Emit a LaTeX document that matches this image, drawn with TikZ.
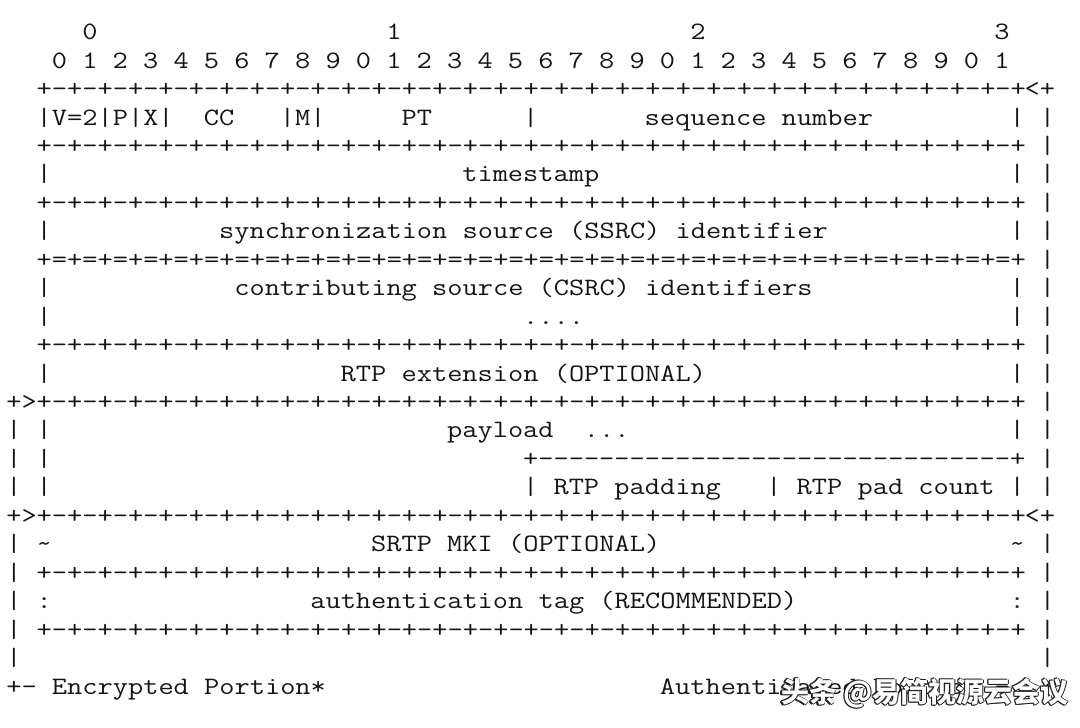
\documentclass[tikz,border=0pt]{standalone}
\usepackage{fontspec}
\usetikzlibrary{positioning}
\newfontfamily\cjk{Noto Sans CJK SC}
\definecolor{ink}{HTML}{141414}
\definecolor{shade}{HTML}{202020}

\newcommand\bitrule[1]{+\foreach\kk in {1,...,32}{#1+}}
\newcommand\dashrun[1]{\foreach\kk in {1,...,#1}{-\kern0pt}}

\tikzset{
  asc/.style={font=\fontsize{25}{25}\selectfont\ttfamily, text=ink,
    inner sep=0pt, anchor=base west, xscale=1.182},
  wmark/.style={font=\cjk\bfseries\fontsize{28}{28}\selectfont, inner sep=0pt,
    anchor=base west}
}

\begin{document}
\frenchspacing
\begin{tikzpicture}
\useasboundingbox (0,0) rectangle (1080pt,-728pt);
\begin{scope}[x=15.2pt, y=-28.45pt, shift={(6.1pt,-39.65pt)}]
% bit numbers
\foreach \nn/\cl in {0/5,1/25,2/45,3/65}
  \node[asc] (dec\nn) at (\cl,0) {\nn};
\foreach \bitno in {0,...,31} {
  \pgfmathtruncatemacro\digit{mod(\bitno,10)}
  \node[asc] (bit\bitno) at ({3+2*\bitno},1) {\digit};
}
% rules
\foreach \rw in {2,4,6,11,13,17,19,21}
  \node[asc] (rule\rw) at (2,\rw) {\bitrule{-}};
\node[asc] (rule8) at (2,8) {\bitrule{=}};
\node[asc] (authtop) at (67,2) {<+};
\node[asc] (authend) at (67,17) {<+};
\node[asc] (enctop) at (0,13) {+>};
\node[asc] (encend) at (0,17) {+>};
% sides of the packet
\foreach \rw in {5,7,9,10,12,14,15,16}
  \node[asc] (lside\rw) at (2,\rw) {|};
\foreach \rw in {3,5,7,9,10,12,14,16}
  \node[asc] (rside\rw) at (66,\rw) {|};
\foreach \rw in {3,...,16}
  \node[asc] (auth\rw) at (68,\rw) {|};
\foreach \rw in {18,...,22}
  \node[asc] (auth\rw) at (68,\rw) {|};
\foreach \rw in {14,15,16}
  \node[asc] (enc\rw) at (0,\rw) {|};
\foreach \rw in {18,...,22}
  \node[asc] (enc\rw) at (0,\rw) {|};
% header fields
\node[asc] (vpx) at (2,3) {|V=2|P|X|};
\node[asc] (cc) at (13,3) {CC};
\node[asc] (mark) at (18,3) {|M|};
\node[asc] (pt) at (26,3) {PT};
\node[asc] (ptend) at (34,3) {|};
\node[asc] (seq) at (42,3) {sequence number};
\node[asc] (ts) at (30,5) {timestamp};
\node[asc] (ssrc) at (14,7) {synchronization source (SSRC) identifier};
\node[asc] (csrc) at (15,9) {contributing source (CSRC) identifiers};
\node[asc] (csrcmore) at (34,10) {....};
\node[asc] (ext) at (22,12) {RTP extension (OPTIONAL)};
% payload
\node[asc] (payload) at (29,14) {payload};
\node[asc] (payloadmore) at (38,14) {...};
\node[asc] (padtop) at (34,15) {+\dashrun{31}+};
\node[asc] (padl) at (34,16) {|};
\node[asc] (pad) at (36,16) {RTP padding};
\node[asc] (padmid) at (50,16) {|};
\node[asc] (padcount) at (52,16) {RTP pad count};
% trailer
\node[asc] (mkil) at (2,18) {\textasciitilde};
\node[asc] (mki) at (24,18) {SRTP MKI (OPTIONAL)};
\node[asc] (mkir) at (66,18) {\textasciitilde};
\node[asc] (tagl) at (2,20) {:};
\node[asc] (tag) at (20,20) {authentication tag (RECOMMENDED)};
\node[asc] (tagr) at (66,20) {:};
\node[asc] (enclabel) at (0,23) {+- Encrypted Portion*};
\node[asc] (authlabel) at (43,23) {Authenticated Portion \dashrun{3}+};
\end{scope}
% watermark
\foreach \dx/\dy [count=\i] in {-1.5/-1.2,-1.5/0,0/-1.3,-0.8/0.6,0.6/-0.8}
  \node[wmark, text=shade, xshift=\dx pt, yshift=\dy pt] (wmshade\i) at (781pt,-702pt) {头条 @易简视源云会议};
\node[wmark, text=white] (wm) at (781pt,-702pt) {头条 @易简视源云会议};
\end{tikzpicture}
\end{document}
